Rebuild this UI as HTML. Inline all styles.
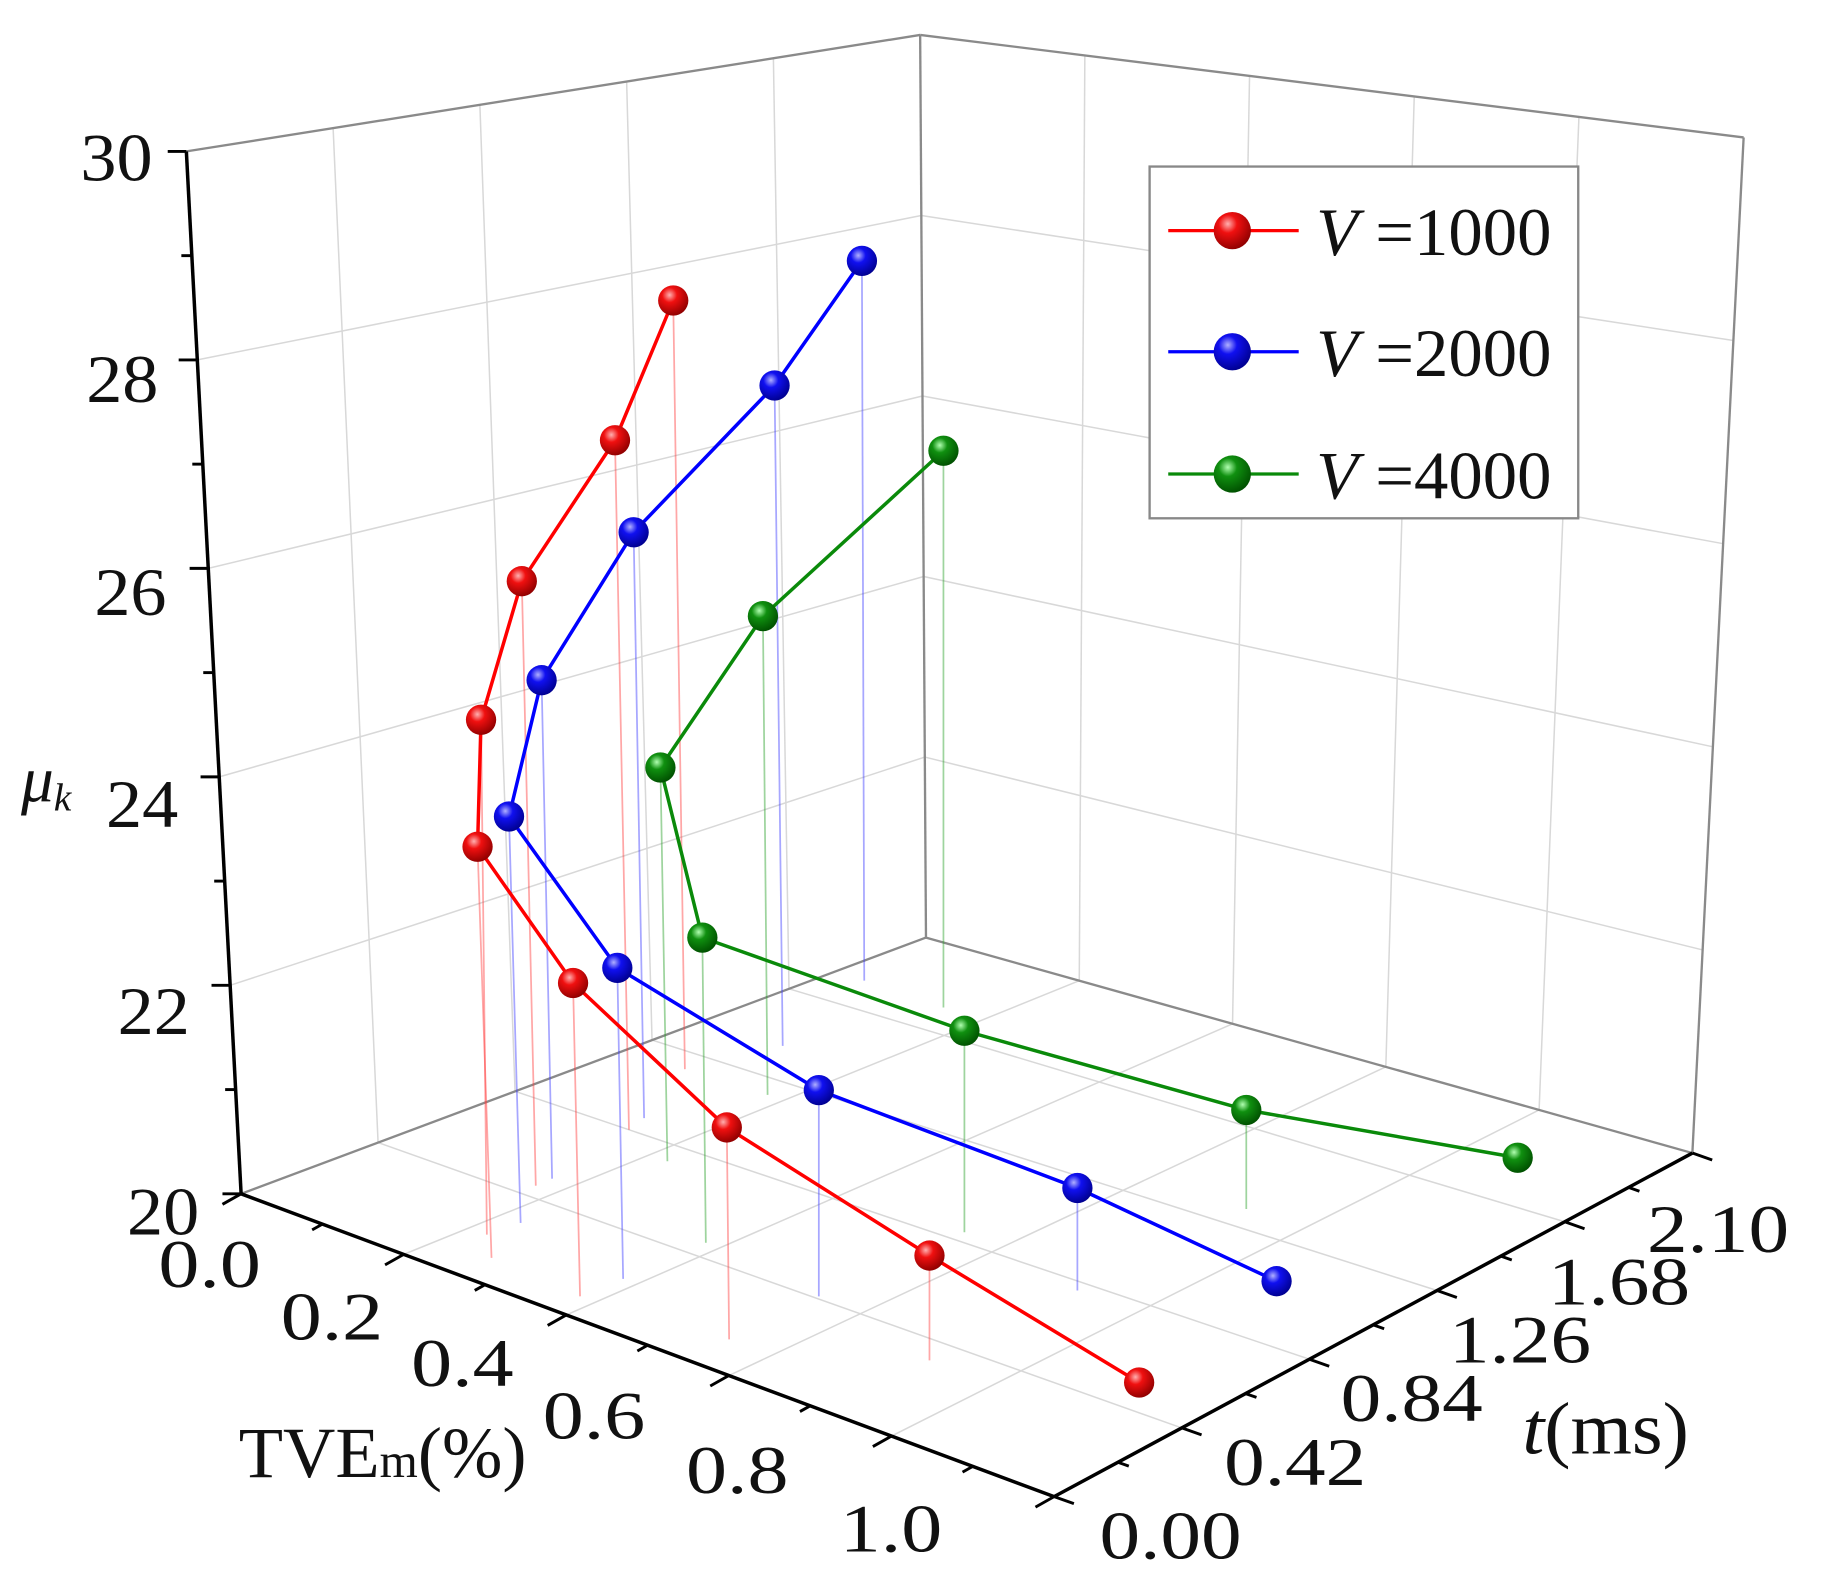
<!DOCTYPE html>
<html><head><meta charset="utf-8"><style>
html,body{margin:0;padding:0;background:#fff;}
svg{display:block;}
text{font-family:"Liberation Serif",serif;fill:#111;}
</style></head><body>
<svg id="s" width="1824" height="1584" viewBox="0 0 1566 1360" preserveAspectRatio="none" xmlns="http://www.w3.org/2000/svg">
<defs>
<radialGradient id="gr" cx="0.38" cy="0.32" r="0.7"><stop offset="0" stop-color="#ffb0b0"/><stop offset="0.35" stop-color="#f01010"/><stop offset="1" stop-color="#900000"/></radialGradient>
<radialGradient id="gb" cx="0.38" cy="0.32" r="0.7"><stop offset="0" stop-color="#b0b0ff"/><stop offset="0.35" stop-color="#1010f0"/><stop offset="1" stop-color="#000090"/></radialGradient>
<radialGradient id="gg" cx="0.38" cy="0.32" r="0.7"><stop offset="0" stop-color="#b0ffb0"/><stop offset="0.35" stop-color="#109010"/><stop offset="1" stop-color="#005000"/></radialGradient>
</defs>
<g id="grid"></g>
<g id="drops"></g>
<g id="series"></g>
<g id="axes"></g>
<g font-size="58" text-anchor="middle" lengthAdjust="spacingAndGlyphs">
<text x="100" y="155" textLength="62" lengthAdjust="spacingAndGlyphs">30</text>
<text x="105" y="345" textLength="62" lengthAdjust="spacingAndGlyphs">28</text>
<text x="112" y="528" textLength="62" lengthAdjust="spacingAndGlyphs">26</text>
<text x="122" y="710" textLength="62" lengthAdjust="spacingAndGlyphs">24</text>
<text x="132" y="888" textLength="62" lengthAdjust="spacingAndGlyphs">22</text>
<text x="140" y="1060" textLength="62" lengthAdjust="spacingAndGlyphs">20</text>
<text x="180" y="1105" textLength="88" lengthAdjust="spacingAndGlyphs">0.0</text>
<text x="285" y="1150" textLength="88" lengthAdjust="spacingAndGlyphs">0.2</text>
<text x="397" y="1190" textLength="88" lengthAdjust="spacingAndGlyphs">0.4</text>
<text x="510" y="1235" textLength="88" lengthAdjust="spacingAndGlyphs">0.6</text>
<text x="633" y="1282" textLength="88" lengthAdjust="spacingAndGlyphs">0.8</text>
<text x="765" y="1332" textLength="88" lengthAdjust="spacingAndGlyphs">1.0</text>
<text x="1005" y="1338" textLength="122" lengthAdjust="spacingAndGlyphs">0.00</text>
<text x="1112" y="1275" textLength="122" lengthAdjust="spacingAndGlyphs">0.42</text>
<text x="1212" y="1220" textLength="122" lengthAdjust="spacingAndGlyphs">0.84</text>
<text x="1305" y="1170" textLength="122" lengthAdjust="spacingAndGlyphs">1.26</text>
<text x="1390" y="1120" textLength="122" lengthAdjust="spacingAndGlyphs">1.68</text>
<text x="1475" y="1075" textLength="122" lengthAdjust="spacingAndGlyphs">2.10</text>
</g>
<text x="18" y="688" font-size="56" font-style="italic">μ<tspan font-size="34" dy="8">k</tspan></text>
<text x="205" y="1268" font-size="62" textLength="247" lengthAdjust="spacingAndGlyphs">TVE<tspan font-size="42">m</tspan>(%)</text>
<text x="1307" y="1248" font-size="64" textLength="143" lengthAdjust="spacingAndGlyphs"><tspan font-style="italic">t</tspan>(ms)</text>
<rect x="987" y="143" width="368" height="302" fill="#fff" stroke="#888" stroke-width="2"/>
<g id="leg"></g>
<text x="1130" y="219" font-size="58" textLength="202" lengthAdjust="spacingAndGlyphs"><tspan font-style="italic">V</tspan> =1000</text>
<text x="1130" y="323" font-size="58" textLength="202" lengthAdjust="spacingAndGlyphs"><tspan font-style="italic">V</tspan> =2000</text>
<text x="1130" y="428" font-size="58" textLength="202" lengthAdjust="spacingAndGlyphs"><tspan font-style="italic">V</tspan> =4000</text>
</svg>
<script>
var NS="http://www.w3.org/2000/svg";
function el(p,t,a){var e=document.createElementNS(NS,t);for(var k in a)e.setAttribute(k,a[k]);document.getElementById(p).appendChild(e);return e;}
function L(p,a,b,c,w){el(p,"line",{x1:a[0],y1:a[1],x2:b[0],y2:b[1],stroke:c,"stroke-width":w});}
function lerp(a,b,t){return [a[0]+(b[0]-a[0])*t,a[1]+(b[1]-a[1])*t];}
var A=[207,1025],B=[905,1285],C=[1453,990],D=[795,805],A2=[160,130],D2=[790,30],C2=[1497,118];
var gc="#d8d8d8";
for(var i=1;i<5;i++){var f=i/5;
 L("grid",lerp(A,B,f),lerp(D,C,f),gc,1.3);
 L("grid",lerp(A,D,f),lerp(B,C,f),gc,1.3);
 L("grid",lerp(A,A2,f),lerp(D,D2,f),gc,1.3);
 L("grid",lerp(A,D,f),lerp(A2,D2,f),gc,1.3);
 L("grid",lerp(D,D2,f),lerp(C,C2,f),gc,1.3);
 L("grid",lerp(D,C,f),lerp(D2,C2,f),gc,1.3);
}
var ec="#8a8a8a";
L("grid",A,D,ec,2);L("grid",D,C,ec,2);L("grid",D,D2,ec,2);L("grid",A2,D2,ec,2);L("grid",D2,C2,ec,2);L("grid",C,C2,ec,2);
L("axes",A,A2,"#000",3);L("axes",A,B,"#000",3);L("axes",B,C,"#000",3);
for(var i=0;i<=10;i++){var p=lerp(A,A2,i/10),len=i%2?9:16;L("axes",p,[p[0]-len,p[1]],"#000",2.5);}
for(var i=0;i<=10;i++){var p=lerp(A,B,i/10),s=i%2?0.55:1;L("axes",p,[p[0]-16*s,p[1]+9*s],"#000",2.5);}
for(var i=0;i<=10;i++){var p=lerp(B,C,i/10),s=i%2?0.55:1;L("axes",p,[p[0]+17*s,p[1]+6*s],"#000",2.5);}
var S=[
 {c:"#ff0000",g:"gr",dc:"rgba(255,60,60,0.45)",p:[[978,1187],[798,1078],[624,968],[492,844],[410,727],[413,618],[448,499],[528,378],[578,258]],
  d:[null,[798,1168],[626,1150],[498,1113],[422,1080],[418,1060],[460,1018],[540,970],[588,918]]},
 {c:"#0000ff",g:"gb",dc:"rgba(60,60,255,0.45)",p:[[1096,1100],[925,1020],[703,936],[530,831],[437,701],[465,584],[544,457],[665,331],[740,224]],
  d:[null,[925,1108],[703,1113],[535,1098],[447,1050],[474,1012],[553,960],[672,898],[742,842]]},
 {c:"#0a8a0a",g:"gg",dc:"rgba(40,160,40,0.45)",p:[[1303,994],[1070,953],[828,885],[603,805],[567,659],[655,529],[810,387]],
  d:[null,[1070,1038],[828,1058],[606,1067],[573,997],[659,940],[810,865]]}
];
S.forEach(function(s){
 s.d.forEach(function(d,i){if(d)L("drops",s.p[i],d,s.dc,1.5);});
 el("series","polyline",{points:s.p.map(function(q){return q.join(",");}).join(" "),fill:"none",stroke:s.c,"stroke-width":3});
 s.p.forEach(function(q){el("series","circle",{cx:q[0],cy:q[1],r:13,fill:"url(#"+s.g+")"});});
});
[[198,"#ff0000","gr"],[302,"#0000ff","gb"],[407,"#0a8a0a","gg"]].forEach(function(l){
 L("leg",[1003,l[0]],[1115,l[0]],l[1],2.8);
 el("leg","circle",{cx:1058,cy:l[0],r:16,fill:"url(#"+l[2]+")"});
});
</script>
</body></html>
